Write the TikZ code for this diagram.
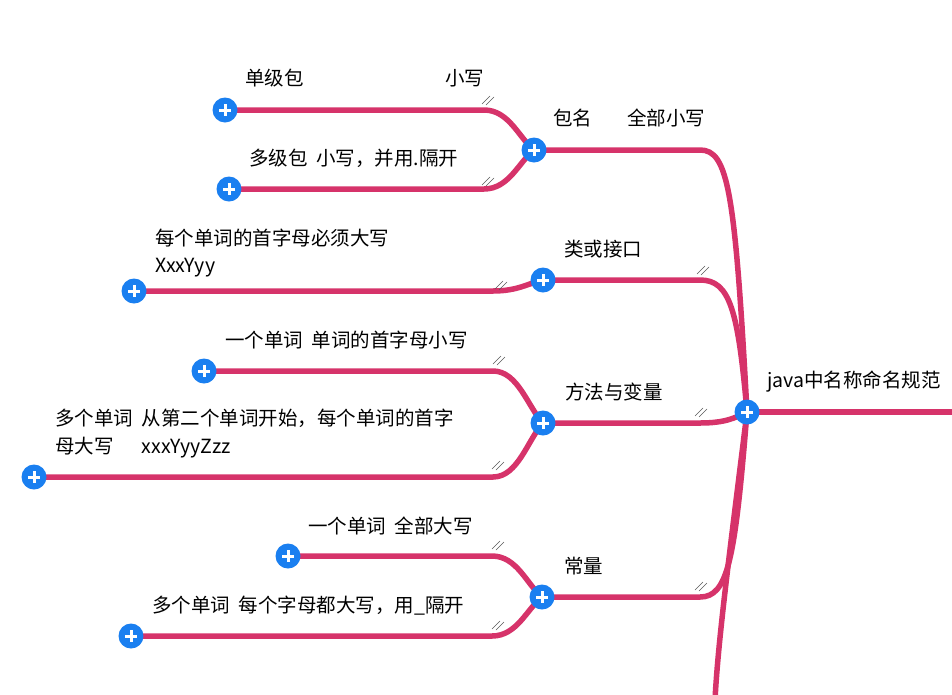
\documentclass[tikz,border=0pt]{standalone}
\usepackage{fontspec}
\usetikzlibrary{calc}
\setmainfont{Noto Sans CJK SC}
\begin{document}
\begin{tikzpicture}[x=1pt,y=-1pt,
  br/.style={draw=mag,line width=5.5pt,line cap=round},
  lbl/.style={anchor=west,inner sep=0pt,font=\fontsize{19.5}{23}\selectfont},
  tk/.style={draw=gray!70!black,line width=0.6pt}]
\definecolor{mag}{HTML}{D6336A}
\definecolor{bl}{HTML}{1A7FF0}
\useasboundingbox (0,0) rectangle (952,694);
\clip (0,0) rectangle (952,694);
\newcommand\plus[2]{\fill[bl] (#1) circle (12.5);
  \draw[white,line width=3pt] ($(#1)+(-6,0)$) -- ($(#1)+(6,0)$) ($(#1)+(0,-6)$) -- ($(#1)+(0,6)$);}
\coordinate (root) at (747,412);
\coordinate (bm) at (534,150);
\coordinate (lj) at (543,280);
\coordinate (ff) at (543,423);
\coordinate (cl) at (542,597);
\coordinate (a1) at (225,110);
\coordinate (a2) at (229,189);
\coordinate (b1) at (134,291);
\coordinate (c1) at (204,371);
\coordinate (c2) at (34,477);
\coordinate (d1) at (288,556);
\coordinate (d2) at (131,636);
\coordinate (e) at (952,412);
\coordinate (dn) at (715,700);
% root branches
\draw[br] (root) -- (e);
\draw[br] (root) .. controls (735,190) and (728,150) .. (700,150) -- (bm);
\draw[br] (root) .. controls (738,310) and (730,280) .. (700,280) -- (lj);
\draw[br] (root) .. controls (735,418) and (725,423) .. (700,423) -- (ff);
\draw[br] (root) .. controls (735,560) and (728,597) .. (700,597) -- (cl);
\draw[br] (root) .. controls (730,550) and (718,640) .. (dn);
% children
\foreach \cn/\pn in {a1/bm,a2/bm,b1/lj,c1/ff,c2/ff,d1/cl,d2/cl}{
  \draw[br] let \p1=(\cn), \p2=(\pn) in (\cn) -- (\x2-50,\y1) .. controls (\x2-25,\y1) and (\x2-15,\y1*0.3+\y2*0.7) .. (\pn);
}
% tick marks
\foreach \tx/\ty in {487/100,487/181,500/285,702/270,700/412,498/360,497/465,497/545,497/625,700/586}{
  \draw[tk] (\tx-5,\ty+4) -- (\tx+3,\ty-4) (\tx-1,\ty+5) -- (\tx+7,\ty-3);
}
\foreach \n in {root,bm,lj,ff,cl,a1,a2,b1,c1,c2,d1,d2}{\plus{\n}{}}
% labels
\node[lbl] (t1) at (245,78) {单级包};
\node[lbl] (t2) at (445,78) {小写};
\node[lbl] (t3) at (553,118) {包名};
\node[lbl] (t4) at (627,118) {全部小写};
\node[lbl] (t5) at (249,158) {多级包\ \ 小写，并用.隔开};
\node[lbl] (t6) at (155,238) {每个单词的首字母必须大写};
\node[lbl] (t7) at (155,268) {XxxYyy};
\node[lbl] (t8) at (564,249) {类或接口};
\node[lbl] (t9) at (225,340) {一个单词\ \ 单词的首字母小写};
\node[lbl] (t10) at (565,392) {方法与变量};
\node[lbl] (t11) at (55,418) {多个单词\ \ 从第二个单词开始，每个单词的首字};
\node[lbl] (t12) at (55,448) {母大写\quad\ \ xxxYyyZzz};
\node[lbl] (t13) at (308,526) {一个单词\ \ 全部大写};
\node[lbl] (t14) at (564,566) {常量};
\node[lbl] (t15) at (152,606) {多个单词\ \ 每个字母都大写，用\_隔开};
\node[lbl] (t16) at (767,382) {java中名称命名规范};
\end{tikzpicture}
\end{document}
